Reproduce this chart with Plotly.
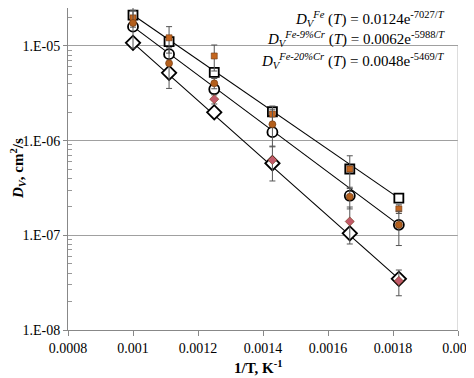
import plotly.graph_objects as go

# 1/T values, K^-1
inv_T = [0.001, 0.001111, 0.00125, 0.001429, 0.001667, 0.001818]

# Calculated (open markers, on the fit lines)
calc_fe = [2.12e-5, 1.11e-5, 5.27e-6, 2.02e-6, 5.02e-7, 2.47e-7]
calc_fe9 = [1.60e-5, 8.2e-6, 3.49e-6, 1.23e-6, 2.62e-7, 1.29e-7]
calc_fe20 = [1.08e-5, 5.2e-6, 1.99e-6, 5.77e-7, 1.05e-7, 3.47e-8]

# Experimental (filled markers) with errors
exp_fe = [1.98e-5, 1.22e-5, 7.84e-6, 1.91e-6, 5.02e-7, 1.90e-7]
err_fe = [0.4e-5, 0.38e-5, 2.4e-6, 0.41e-6, 1.9e-7, 0.2e-7]
exp_fe9 = [1.75e-5, 6.56e-6, 4.03e-6, 1.49e-6, 2.56e-7, 1.29e-7]
err_fe9 = [0.8e-5, 3.0e-6, 0.5e-6, 0.63e-6, 0.66e-7, 0.51e-7]
exp_fe20 = [None, None, 2.74e-6, 6.25e-7, 1.40e-7, 3.30e-8]
err_fe20 = [0, 0, 0.3e-6, 2.5e-7, 0.59e-7, 1.0e-8]

# Fit lines (endpoints)
fit_x = [0.001, 0.001818]
fit_fe = [2.12e-5, 2.47e-7]
fit_fe9 = [1.60e-5, 1.29e-7]
fit_fe20 = [1.08e-5, 3.47e-8]

x_ticks = [0.0008, 0.001, 0.0012, 0.0014, 0.0016, 0.0018, 0.002]
x_ticktext = ["0.0008", "0.001", "0.0012", "0.0014", "0.0016", "0.0018", "0.002"]
y_ticks = [1e-8, 1e-7, 1e-6, 1e-5]
y_ticktext = ["1.E-08", "1.E-07", "1.E-06", "1.E-05"]

equations = [
    "<i>D<sub>V</sub><sup>Fe</sup></i> (<i>T</i>) = 0.0124e<sup>-7027/<i>T</i></sup>",
    "<i>D<sub>V</sub><sup>Fe-9%Cr</sup></i> (<i>T</i>) = 0.0062e<sup>-5988/<i>T</i></sup>",
    "<i>D<sub>V</sub><sup>Fe-20%Cr</sup></i> (<i>T</i>) = 0.0048e<sup>-5469/<i>T</i></sup>",
]

FONT = "Liberation Serif, Times New Roman, serif"
PLOT_H = 322
fig = go.Figure()

for fy in [fit_fe, fit_fe9, fit_fe20]:
    fig.add_trace(go.Scatter(x=fit_x, y=fy, mode="lines",
                             line=dict(color="black", width=1.1), showlegend=False))

for cy, sym, sz in [(calc_fe, "square", 9), (calc_fe9, "circle", 10), (calc_fe20, "diamond", 11)]:
    fig.add_trace(go.Scatter(x=inv_T, y=cy, mode="markers",
                             marker=dict(symbol=sym, size=sz, color="white",
                                         line=dict(color="black", width=1.8)),
                             showlegend=False))

for ey, er, sym, col, sz in [
    (exp_fe, err_fe, "square", "#C4661F", 6),
    (exp_fe9, err_fe9, "circle", "#B35F1C", 7),
    (exp_fe20, err_fe20, "diamond", "#C25A6A", 7),
]:
    fig.add_trace(go.Scatter(x=inv_T, y=ey, mode="markers",
                             error_y=dict(type="data", array=er, visible=True,
                                          color="#555555", thickness=1, width=3),
                             marker=dict(symbol=sym, size=sz, color=col,
                                         line=dict(color="#6b3510", width=0.6)),
                             showlegend=False))

# right border of plot area
fig.add_shape(type="line", xref="x", yref="y", x0=0.002, x1=0.002, y0=1e-8, y1=1e-5,
              line=dict(color="#bbbbbb", width=1))

for eq, ypx in zip(equations, [11, 31, 53]):
    fig.add_annotation(text=eq, xref="paper", yref="paper", x=0.972, y=1 - ypx / PLOT_H,
                       xanchor="right", yanchor="middle", showarrow=False,
                       font=dict(family=FONT, size=15, color="black"))

# axis titles
fig.add_annotation(text="<b>1/T, K<sup>-1</sup></b>", xref="paper", yref="paper",
                   x=0.487, y=-37 / PLOT_H, xanchor="center", yanchor="middle", showarrow=False,
                   font=dict(family=FONT, size=15, color="black"))
fig.add_annotation(text="<b><i>D<sub>V</sub></i>, cm<sup>2</sup>/s</b>", xref="paper", yref="paper",
                   x=-50 / 390, y=0.5, xanchor="center", yanchor="middle", showarrow=False,
                   textangle=-90, font=dict(family=FONT, size=15, color="black"))

minor_vals = [k * 10.0 ** e for e in range(-8, -4) for k in range(2, 10) if k * 10.0 ** e < 2.6e-5]

fig.update_layout(
    width=466, height=370,
    margin=dict(l=60, r=16, t=0, b=48),
    paper_bgcolor="white", plot_bgcolor="white",
    font=dict(family=FONT, size=14, color="black"),
    xaxis=dict(range=[0.0008, 0.002], tickvals=x_ticks, ticktext=x_ticktext,
               showgrid=False, zeroline=False, showline=True, linecolor="#888888",
               ticks="outside", ticklen=5, tickcolor="#888888", automargin=False,
               tickfont=dict(family=FONT, size=14, color="black")),
    yaxis=dict(type="log", range=[-8, -4.599], tickvals=y_ticks, ticktext=y_ticktext,
               showgrid=True, gridcolor="#a0a0a0", gridwidth=1, zeroline=False,
               showline=True, linecolor="#888888", automargin=False,
               ticks="outside", ticklen=4, tickcolor="#888888",
               tickfont=dict(family=FONT, size=14, color="black"),
               minor=dict(tickvals=minor_vals, ticks="inside", ticklen=4,
                          tickcolor="#999999", showgrid=False)),
)

fig.write_html("out.html")
